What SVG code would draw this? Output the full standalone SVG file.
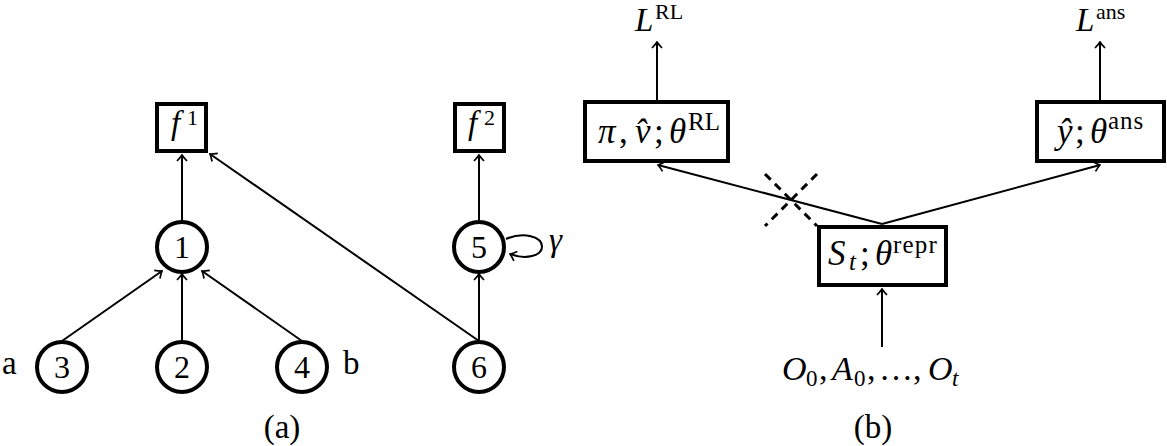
<svg xmlns="http://www.w3.org/2000/svg" width="1167" height="446" viewBox="0 0 1167 446">
<style>
  .box { fill: #fff; stroke: #000; stroke-width: 4; }
  .node { fill: #fff; stroke: #000; stroke-width: 4; }
  .edge { fill: none; stroke: #000; stroke-width: 2; marker-end: url(#arr); }
  .cross { fill: none; stroke: #000; stroke-width: 3; stroke-dasharray: 8 6; }
  text { font-family: "Liberation Serif", "Times New Roman", serif; fill: #000; }
  .lbl { font-size: 33px; }
  .obs { font-size: 34px; }
  .num { font-size: 32px; text-anchor: middle; }
  .mid { text-anchor: middle; }
  .it { font-style: italic; }
  .bt { font-size: 35px; }
  .bs { font-size: 25px; }
  .ls { font-size: 22px; }
  .os { font-size: 23px; }
</style>
<defs>
  <marker id="arr" viewBox="-7 -6 8 12" refX="0" refY="0" markerWidth="8" markerHeight="12" orient="auto" markerUnits="userSpaceOnUse">
    <path d="M-6,-5 Q-2,-1.2 0,0 Q-2,1.2 -6,5" fill="none" stroke="#000" stroke-width="1.7"/>
  </marker>
</defs>

<g id="connectors">
  <line class="edge" x1="62" y1="341" x2="162" y2="271"/>
  <line class="edge" x1="182" y1="340" x2="182" y2="274"/>
  <line class="edge" x1="302" y1="341" x2="202" y2="271"/>
  <line class="edge" x1="182" y1="221" x2="182" y2="155"/>
  <line class="edge" x1="479" y1="341" x2="210" y2="154"/>
  <line class="edge" x1="479" y1="341" x2="479" y2="274"/>
  <line class="edge" x1="479" y1="221" x2="479" y2="155"/>
  <path class="edge" d="M506,239 C524,231 542,237 542,246.5 C542,256 526,260 510,254"/>
  <line class="edge" x1="657" y1="100" x2="657" y2="42"/>
  <line class="edge" x1="1100" y1="100" x2="1100" y2="42"/>
  <line class="edge" x1="882" y1="224" x2="658" y2="165"/>
  <line class="edge" x1="882" y1="224" x2="1100" y2="165"/>
  <line class="edge" x1="882" y1="347" x2="882" y2="289"/>
  <line class="cross" x1="765" y1="174" x2="817" y2="226"/>
  <line class="cross" x1="817" y1="174" x2="765" y2="226"/>
</g>

<g id="f1">
  <rect class="box" x="157" y="104" width="49" height="47"/>
  <text class="lbl"><tspan class="it" x="171" y="134">f</tspan><tspan class="ls" x="187" y="125">1</tspan></text>
</g>
<g id="f2">
  <rect class="box" x="455" y="104" width="49" height="47"/>
  <text class="lbl"><tspan class="it" x="468" y="134">f</tspan><tspan class="ls" x="484" y="125">2</tspan></text>
</g>
<g id="n1">
  <circle class="node" cx="182" cy="247" r="25"/>
  <text class="num" x="182" y="258">1</text>
</g>
<g id="n5">
  <circle class="node" cx="479" cy="247" r="25"/>
  <text class="num" x="479" y="258">5</text>
  <text class="lbl it" x="549" y="251">γ</text>
</g>
<g id="n3">
  <circle class="node" cx="62" cy="367" r="25"/>
  <text class="num" x="62" y="378">3</text>
</g>
<g id="n2">
  <circle class="node" cx="182" cy="367" r="25"/>
  <text class="num" x="182" y="378">2</text>
</g>
<g id="n4">
  <circle class="node" cx="302" cy="367" r="25"/>
  <text class="num" x="302" y="378">4</text>
</g>
<g id="n6">
  <circle class="node" cx="479" cy="367" r="25"/>
  <text class="num" x="479" y="378">6</text>
</g>
<g id="labels-a">
  <text class="lbl" x="2" y="374">a</text>
  <text class="lbl" x="343" y="374">b</text>
  <text class="lbl mid" x="282" y="438">(a)</text>
</g>

<g id="rl">
  <rect class="box" x="585" y="102" width="143" height="59"/>
  <text class="bt"><tspan class="it" x="598" y="143">π</tspan><tspan x="619" y="143">,</tspan><tspan class="it" x="635" y="143">v̂</tspan><tspan x="654" y="143">;</tspan><tspan class="it" x="669" y="143">θ</tspan><tspan class="bs" x="688" y="130">RL</tspan></text>
</g>
<g id="ans">
  <rect class="box" x="1037" y="102" width="127" height="59"/>
  <text class="bt"><tspan class="it" x="1057" y="143">ŷ</tspan><tspan x="1075" y="143">;</tspan><tspan class="it" x="1090" y="143">θ</tspan><tspan class="bs" x="1108" y="129" letter-spacing="1">ans</tspan></text>
</g>
<g id="repr">
  <rect class="box" x="819" y="227" width="127" height="58"/>
  <text class="bt"><tspan class="it" x="828" y="265">S</tspan><tspan class="it bs" x="849" y="270">t</tspan><tspan x="860" y="265">;</tspan><tspan class="it" x="875" y="265">θ</tspan><tspan class="bs" x="893" y="253" letter-spacing="1.2">repr</tspan></text>
</g>
<g id="loss-rl">
  <text class="lbl"><tspan class="it" x="635" y="31">L</tspan><tspan class="ls" x="655" y="19">RL</tspan></text>
</g>
<g id="loss-ans">
  <text class="lbl"><tspan class="it" x="1076" y="31">L</tspan><tspan class="ls" x="1096" y="19">ans</tspan></text>
</g>
<g id="obs">
  <text class="obs"><tspan class="it" x="782" y="380">O</tspan><tspan class="os" x="806" y="386">0</tspan><tspan x="819" y="380">,</tspan><tspan class="it" x="832" y="380">A</tspan><tspan class="os" x="854" y="386">0</tspan><tspan x="867" y="380">,</tspan><tspan x="879" y="380">…</tspan><tspan x="913" y="380">,</tspan><tspan class="it" x="928" y="380">O</tspan><tspan class="it os" x="952" y="386">t</tspan></text>
</g>
<g id="labels-b">
  <text class="lbl mid" x="873" y="438">(b)</text>
</g>
</svg>
